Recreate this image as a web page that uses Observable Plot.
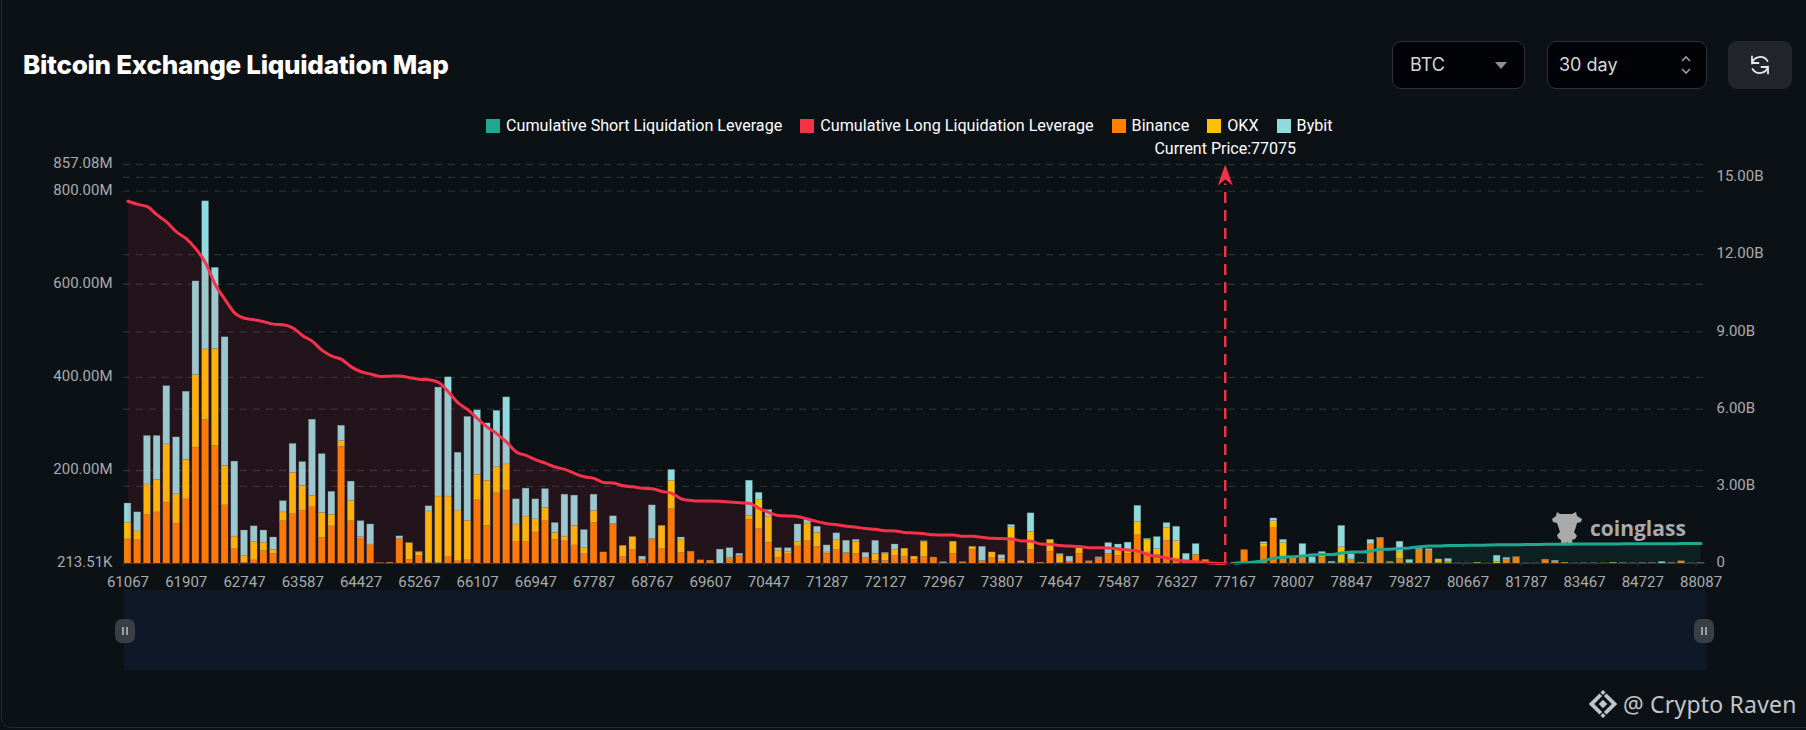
<!DOCTYPE html>
<html>
<head>
<meta charset="utf-8">
<script src="https://cdn.jsdelivr.net/npm/d3@7"></script>
<script src="https://cdn.jsdelivr.net/npm/@observablehq/plot@0.6"></script>
<style>
html,body{margin:0;padding:0;width:1806px;height:730px;overflow:hidden;background:#0c1116;}
#page{position:relative;width:1806px;height:730px;font-family:Roboto,sans-serif;background:#0c1116;}
.abs{position:absolute;}
#frame{left:1px;top:-12px;width:1830px;height:740px;border:1px solid #272b30;border-radius:10px;box-sizing:border-box;}
#title{left:23px;top:48px;font:800 26px/34px Inter,sans-serif;letter-spacing:-.28px;color:#fff;white-space:nowrap;}
.ctl{top:41px;height:48px;box-sizing:border-box;border-radius:9px;}
.sel{background:#020307;border:1px solid #2d3238;color:#d4d6d8;font:400 18px/46px Inter,sans-serif;}
#legend{left:486px;top:115px;display:flex;gap:18px;font:400 16.15px/21px Roboto,sans-serif;color:#fff;white-space:nowrap;}
#legend div{display:flex;align-items:center;gap:6px;}
#legend i{display:block;width:14px;height:14px;}
#nav{left:124px;top:590px;width:1582px;height:80px;background:#0f1828;}
.handle{top:619px;width:20px;height:24px;border-radius:7px;background:#3a3f45;}
.handle:before,.handle:after{content:"";position:absolute;top:8px;height:8px;width:2px;background:#9aa0a6;}
.handle:before{left:7px}.handle:after{left:11px}
#wm{left:1590px;top:510px;font:700 21px/36px "Open Sans",sans-serif;color:#a9aaab;white-space:nowrap;}
#raven{left:1623px;top:686px;font:400 23px/36px "Noto Sans",sans-serif;color:#c2c5c7;letter-spacing:.2px;white-space:nowrap;}
#chart{left:0;top:0;}
</style>
</head>
<body>
<div id="page">
  <div id="frame" class="abs"></div>
  <div id="title" class="abs">Bitcoin Exchange Liquidation Map</div>
  <div class="abs ctl sel" style="left:1392px;width:133px;padding-left:17px;">BTC</div>
  <svg class="abs" style="left:1495px;top:62px" width="12" height="7"><path d="M0 0H12L6 7Z" fill="#8d9094"/></svg>
  <div class="abs ctl sel" style="left:1547px;width:160px;padding-left:11px;">30 day</div>
  <svg class="abs" style="left:1680px;top:55px" width="12" height="20" fill="none" stroke="#9a9da1" stroke-width="1.6"><path d="M2 6L6 2L10 6M2 14L6 18L10 14"/></svg>
  <div class="abs ctl" style="left:1728px;width:64px;background:#22262c;"></div>
  <svg class="abs" style="left:1749px;top:54px" width="22" height="22" fill="none" stroke="#e6e8ea" stroke-width="1.8" stroke-linecap="round" stroke-linejoin="round"><path d="M3 9.5A8.5 8.5 0 0 1 18.5 7M3 2.5V9H9.5M19 12.5A8.5 8.5 0 0 1 3.5 15M19 19.5V13H12.5"/></svg>
  <div id="legend" class="abs"></div>
  <div id="nav" class="abs"></div>
  <svg class="abs" style="left:1552px;top:511px" width="30" height="35" fill="#a9aaab"><path d="M5 1L8 3H20L24 1L25 5L30 8L29 11L25 12C24 16 23 19 22 21L25 25L23 28L20 29L21 34H17L15 31L13 34H9L9 29L6 27L5 24L8 21C7 18 6 15 5 12L1 11L0 8L4 5Z"/></svg>
  <div id="wm" class="abs">coinglass</div>
  <div id="chart" class="abs"></div>
  <div class="abs handle" style="left:115px"></div>
  <div class="abs handle" style="left:1694px"></div>
  <svg class="abs" style="left:1589px;top:690px" width="28" height="28" viewBox="-14 -14 28 28" fill="#c2c5c7">
    <g transform="rotate(45)"><rect x="-3" y="-3" width="6" height="6"/><rect x="-10" y="-10" width="3.6" height="3.6"/><rect x="6.4" y="6.4" width="3.6" height="3.6"/><path d="M-5 -10H10V5H6.2V-6.2H-5Z"/><path d="M-10 -5H-6.2V6.2H5V10H-10Z"/></g>
  </svg>
  <div id="raven" class="abs">@ Crypto Raven</div>
</div>
<script>
// Price buckets (x categories) and the labels the axis prints
const prices = [
  61067,61207,61347,61487,61627,61767,61907,62047,62187,62327,
  62467,62607,62747,62887,63027,63167,63307,63447,63587,63727,
  63867,64007,64147,64287,64427,64567,64707,64847,64987,65127,
  65267,65407,65547,65687,65827,65967,66107,66247,66387,66527,
  66667,66807,66947,67087,67227,67367,67507,67647,67787,67927,
  68067,68207,68347,68487,68767,68907,69047,69187,69327,69467,
  69607,69747,69887,70027,70167,70307,70447,70587,70727,70867,
  71007,71147,71287,71427,71567,71707,71847,71987,72127,72267,
  72407,72547,72687,72827,72967,73107,73247,73387,73527,73667,
  73807,73947,74087,74227,74367,74507,74647,74787,74927,75067,
  75207,75347,75487,75627,75767,75907,76047,76187,76327,76467,
  76607,76747,76887,77027,77167,77307,77447,77587,77727,77867,
  78007,78147,78287,78427,78567,78707,78847,78987,79127,79267,
  79407,79547,79827,79967,80107,80247,80387,80527,80667,80807,
  80947,81087,81227,81507,81787,81927,82207,82627,82907,83187,
  83467,83607,83747,83887,84167,84447,84727,85147,85567,86127,
  86827,87527,88087
];
const xTickLabels = [61067,61907,62747,63587,64427,65267,66107,66947,67787,68767,69607,70447,71287,72127,72967,73807,74647,75487,76327,77167,78007,78847,79827,80667,81787,83467,84727,88087];

// Liquidation leverage per bucket, in millions
const binance = [
  52,50,104,110,131,86,138,249,308,253,
  125,31,2,7,27,21,91,106,114,121,
  55,80,251,91,54,39,1,1.5,52,8,
  16,1,1,14,5,7,136,81,151,157,
  46,46,67,91,51,48,39,20,87,24,
  84,14,29,7,51,31,117,23,25,7,
  4,0,9,16,94,74,45,13,20,37,
  48,36,21,29,21,21,12,6,6,16,
  14,8,14,13,1,21,1,30,6,12,
  4,48,2,29,1.5,25,1.5,3,21,3,
  10,21,17,21,61,24,19,49,5,6,
  19,8,.5,.5,2,29,2,35,76,10,
  14,17,1,13,1,1,9,2,41,54,
  2,10,1.5,31,28,2,4,.5,.4,.3,
  .3,0,9,14,.2,.2,8,3,.2,.2,
  .7,.7,.5,.2,1,.3,1,1,0,.5,
  5,.2,.8
];
const okx = [
  36,19,66,70,125,63,85,156,152,208,
  85,27,15,39,18,8,19,89,53,24,
  54,25,12,44,3,2,0,.5,1.5,36,
  8,111,143,130,109,85,55,97,56,56,
  38,55,28,29,15,10,42,13,26,0,
  1.5,24,28,1,2,50,61,27,.7,0,
  2,0,3,1,9,62,56,15,5,9,
  38,30,3,21,2,26,1,15,14,14,
  18,7,33,0,0,26,2,6,0,12,
  6,30,3,39,.5,25,16,1,13,1,
  1.5,0,16,9,29,26,12,28,43,1,
  0,0,0,0,0,0,.5,7,15,35,
  0,0,0,3,0,34,0,0,2,0,
  1.5,14,0,0,0,7,0,0,0,1.5,
  0,4,0,0,0,0,.5,0,1.5,0,
  0,0,0,1.5,0,0,0,0,0,.5,
  0,0,0
];
const bybit = [
  41,41,104,94,125,122,146,201,318,174,
  276,161,54,34,26,27,24,62,51,164,
  126,49,33,41,34,43,0,0,5,0,
  .5,11,234,256,124,223,138,123,121,144,
  54,60,43,40,21,90,65,39,35,0,
  16,0,0,7,72,0,23,6,0,0,
  0,30,21,4,75,16,14,5,8,38,
  8,13,15,15,26,4,10,28,3,11,
  0,0,1,0,2,0,0,0,30,0,
  8,5,0,40,0,1,3,11,0,1,
  2,23,8,15,34,3,26,10,31,14,
  23,0,0,0,0,0,0,4,6,6,
  0,25,13,9,3,46,12,0,8,1,
  0,23,6.5,5,3,0,6,0,0,0,
  0,13,3.5,0,.1,.1,0,3,0,.1,
  0,0,0,0,0,.1,0,0,3.5,0,
  0,.1,0
];
// Cumulative leverage, in billions (right axis). Long runs from the first bucket, short picks up after it ends.
const cumulativeLong = [
  14.07,13.95,13.86,13.54,13.26,12.88,12.62,12.22,11.67,10.83,
  10.25,9.73,9.53,9.47,9.39,9.30,9.28,9.15,8.85,8.63,
  8.28,8.06,7.93,7.64,7.45,7.36,7.27,7.28,7.29,7.22,
  7.16,7.14,7.03,6.67,6.24,5.98,5.63,5.30,5.04,4.72,
  4.33,4.20,4.03,3.90,3.75,3.66,3.50,3.37,3.31,3.15,
  3.13,3.02,2.98,2.93,2.91,2.80,2.73,2.51,2.45,2.43,
  2.43,2.42,2.39,2.36,2.34,2.14,1.99,1.87,1.85,1.82,
  1.73,1.63,1.55,1.51,1.45,1.41,1.36,1.33,1.28,1.27,
  1.21,1.19,1.16,1.12,1.11,1.11,1.06,1.06,1.02,.98,
  .97,.96,.88,.87,.76,.75,.70,.68,.66,.62,
  .62,.61,.56,.53,.49,.35,.28,.22,.14,.09,
  .06,.04,.01,0
];
const cumulativeShort = [
  .01,.04,.06,.12,.21,.25,.27,.30,.34,.35,
  .35,.41,.45,.45,.49,.56,.56,.59,.61,.65,
  .68,.68,.70,.70,.71,.71,.72,.73,.73,.73,
  .74,.74,.75,.75,.75,.76,.76,.76,.76,.76,
  .77,.77,.77,.77,.77,.77,.78,.78,.78
];

const leftTicks = [0.21351,200,400,600,800,857.08];
const leftLabels = ["213.51K","200.00M","400.00M","600.00M","800.00M","857.08M"];
const rightTicks = [0,3,6,9,12,15];
const rightLabels = ["0","3.00B","6.00B","9.00B","12.00B","15.00B"];

const exchanges = ["Binance","OKX","Bybit"];
const exchangeColors = ["#ff8000","#ffc000","#8fdbdd"];
const legendNames = ["Cumulative Short Liquidation Leverage","Cumulative Long Liquidation Leverage",...exchanges];
const legendColors = ["#1fa88f","#f6324a",...exchangeColors];
const currentPrice = 77075;
const currentBucket = 77027;

// the right axis (B) shares the plot with the left one (M)
const mPerB = 55.3;

const series = [binance, okx, bybit];
const barRows = exchanges.flatMap((ex, k) => prices.map((p, i) => ({price: p, exchange: ex, value: series[k][i]})));
const longRows = cumulativeLong.map((v, i) => ({price: prices[i], value: v * mPerB}));
const shortStart = prices.length - cumulativeShort.length;
const shortRows = cumulativeShort.map((v, i) => ({price: prices[i + shortStart], value: v * mPerB}));

const legend = document.getElementById("legend");
legendNames.forEach((n, i) => {
  const d = document.createElement("div");
  const sw = document.createElement("i");
  sw.style.background = legendColors[i];
  d.appendChild(sw);
  d.appendChild(document.createTextNode(n));
  legend.appendChild(d);
});

const arrowHead = {draw(c){c.moveTo(0,0);c.lineTo(7.5,21);c.lineTo(0,15);c.lineTo(-7.5,21);c.closePath();}};
const axisFill = "#a8abae";
const gridStyle = {stroke:"#2b2f33", strokeWidth:1.4, strokeDasharray:"7 6"};

const plot = Plot.plot({
  width: 1806, height: 730,
  marginLeft: 123, marginRight: 101, marginTop: 164, marginBottom: 167,
  style: {background:"transparent", fontFamily:"Roboto,sans-serif", fontSize:"15px", overflow:"visible"},
  x: {type:"band", domain: prices, paddingInner:.3, paddingOuter:.11, label:null},
  y: {domain:[0.21351,857.08], label:null},
  color: {domain: exchanges, range: exchangeColors},
  marks: [
    Plot.ruleY([...leftTicks.slice(1), ...rightTicks.slice(1).map(v => v * mPerB)], gridStyle),
    Plot.barY(barRows, {x:"price", y:"value", fill:"exchange", order: null, stroke:"#7d8488", strokeWidth:.5, strokeOpacity:.55}),
    Plot.areaY(longRows, {x:"price", y:"value", fill:"#f6324a", fillOpacity:.1, curve:"monotone-x"}),
    Plot.areaY(shortRows, {x:"price", y:"value", fill:"#1fa88f", fillOpacity:.1, curve:"monotone-x"}),
    Plot.lineY(longRows, {x:"price", y:"value", stroke:"#f6324a", strokeWidth:3, curve:"monotone-x"}),
    Plot.lineY(shortRows, {x:"price", y:"value", stroke:"#1fa88f", strokeWidth:3, curve:"monotone-x"}),
    Plot.ruleX([currentBucket], {x:d=>d, y1:0.21351, y2:815, stroke:"#f6324a", strokeWidth:2.4, strokeDasharray:"11 7"}),
    Plot.dot([currentBucket], {x:d=>d, y:857.08, symbol:arrowHead, fill:"#f6324a", stroke:"none"}),
    Plot.text([`Current Price:${currentPrice}`], {x:()=>currentBucket, y:()=>857.08, dy:-16, text:d=>d, fill:"#fff", fontSize:16}),
    Plot.ruleY([0.21351], {stroke:"#34383c", strokeWidth:1}),
    Plot.axisY({ticks:leftTicks, tickSize:0, tickPadding:11, dy:-1, fill:axisFill, fontSize:15, tickFormat:d=>leftLabels[leftTicks.indexOf(d)], label:null}),
    Plot.axisY({anchor:"right", ticks:rightTicks.map(v=>v*mPerB), tickSize:0, tickPadding:11, dy:-1, fill:axisFill, fontSize:15, tickFormat:d=>rightLabels[rightTicks.findIndex(v=>v*mPerB===d)], label:null}),
    Plot.axisX({ticks:xTickLabels, tickSize:3, tickFormat:()=>"", dx:-4.85, stroke:"#34383c", label:null}),
    Plot.axisX({ticks:xTickLabels, tickSize:0, tickPadding:12.5, fill:axisFill, fontSize:15, tickFormat:d=>String(d), label:null})
  ]
});
document.getElementById("chart").appendChild(plot);
</script>
</body>
</html>
